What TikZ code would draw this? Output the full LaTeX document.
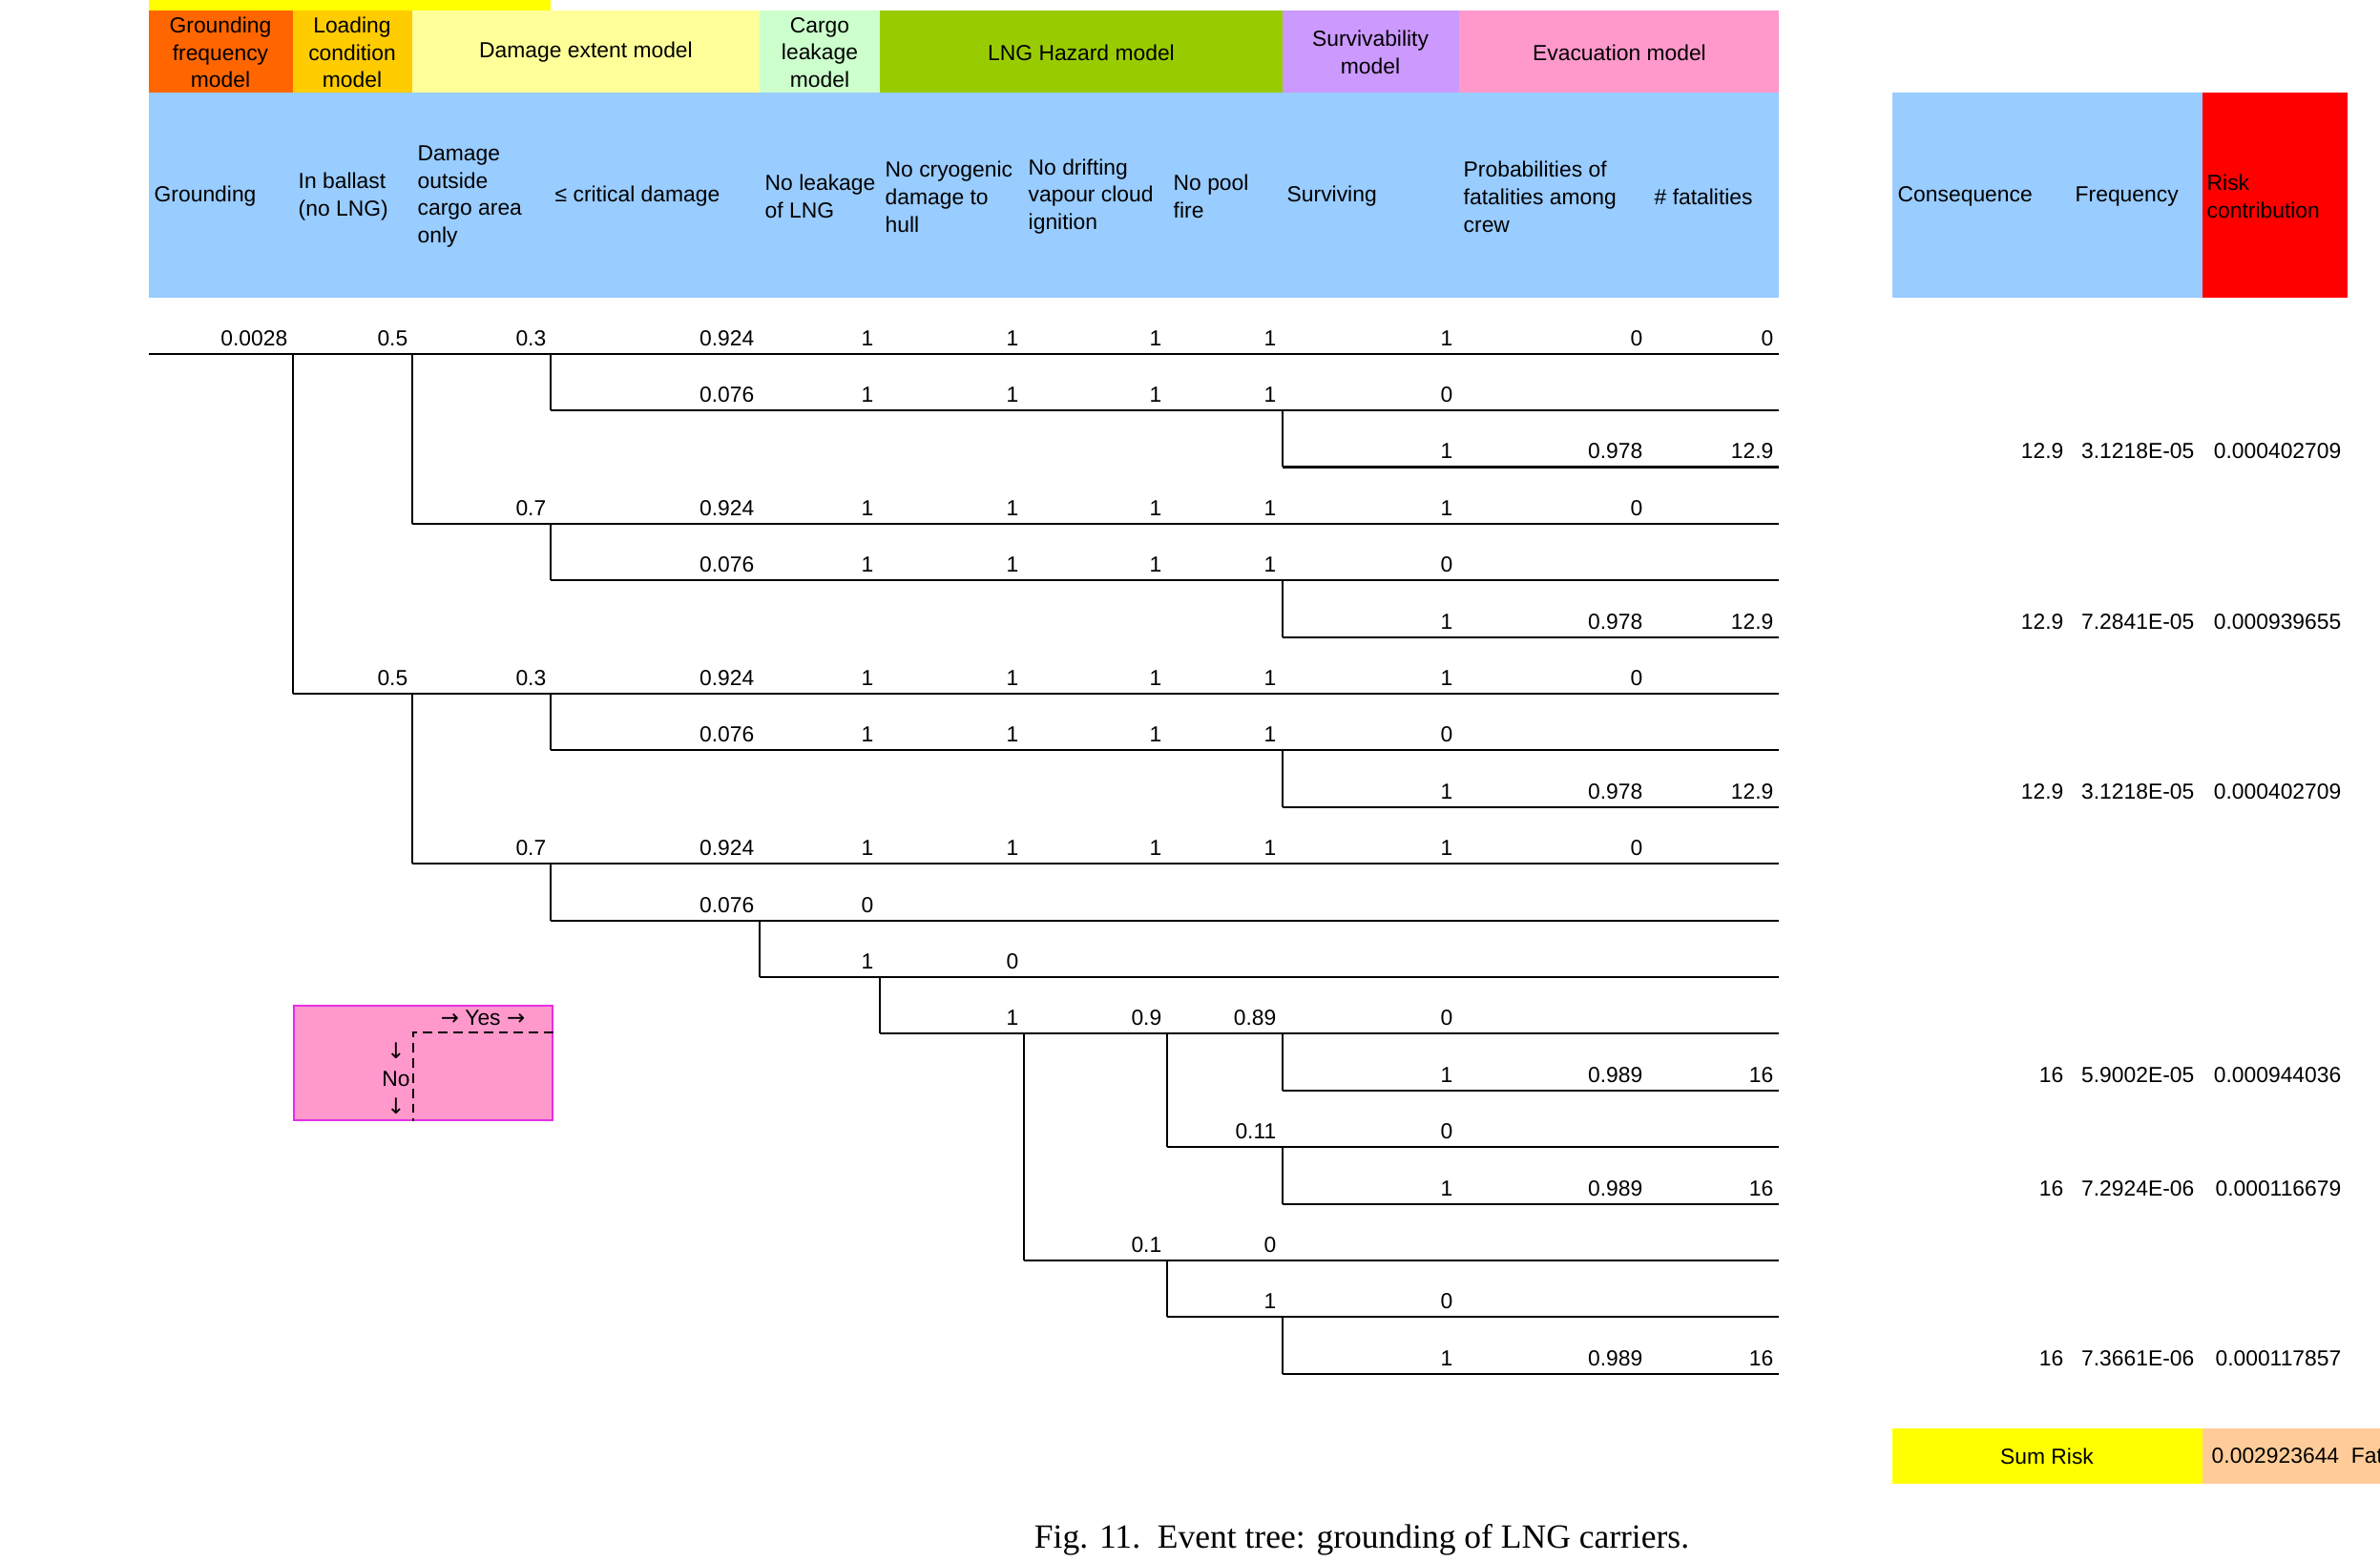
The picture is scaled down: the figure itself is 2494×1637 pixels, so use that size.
\documentclass[tikz,border=0pt]{standalone}
\usepackage{fontspec}
\setmainfont{Liberation Sans}
\newfontfamily\capfont{Liberation Serif}
\newfontfamily\arrowfont{DejaVu Sans}
\usetikzlibrary{positioning}

\definecolor{topyellow}{HTML}{FFFF00}
\definecolor{grfreq}{HTML}{FF6600}
\definecolor{loadcond}{HTML}{FFCC00}
\definecolor{dmgext}{HTML}{FFFF99}
\definecolor{leakgreen}{HTML}{CCFFCC}
\definecolor{hazgreen}{HTML}{99CC00}
\definecolor{survlav}{HTML}{CC99FF}
\definecolor{evacpink}{HTML}{FF99CC}
\definecolor{headblue}{HTML}{99CCFF}
\definecolor{riskred}{HTML}{FF0000}
\definecolor{peach}{HTML}{FFCC99}
\definecolor{keymag}{HTML}{E62EE6}

\begin{document}
\begin{tikzpicture}[x=0.01cm, y=-0.01cm,
	every node/.style={font=\fontsize{6.5pt}{8.2pt}\selectfont, inner sep=0pt},
	model/.style={align=center},
	head/.style={anchor=west, align=left},
	val/.style={anchor=base east},
	branch/.style={line width=0.6pt},
	stem/.style={line width=0.4pt}]
	\useasboundingbox (0,0) rectangle (2494,1637);

	% model bands
	\fill[topyellow] (156,0) rectangle (577,11);
	\fill[grfreq] (156,11) rectangle (306.5,97);
	\fill[loadcond] (306.5,11) rectangle (432,97);
	\fill[dmgext] (432,11) rectangle (796,97);
	\fill[leakgreen] (796,11) rectangle (922,97);
	\fill[hazgreen] (922,11) rectangle (1344,97);
	\fill[survlav] (1344,11) rectangle (1529,97);
	\fill[evacpink] (1529,11) rectangle (1864,97);
	\fill[headblue] (156,97) rectangle (1864,312);
	\fill[headblue] (1983,97) rectangle (2308,312);
	\fill[riskred] (2308,97) rectangle (2460,312);

	\node[model] (MG) at (231,55) {Grounding\\frequency\\model};
	\node[model] (MB) at (369,55) {Loading\\condition\\model};
	\node[model] (MO) at (614,55) {Damage extent model};
	\node[model] (ML) at (859,55) {Cargo\\leakage\\model};
	\node[model] (MH) at (1133,55) {LNG Hazard model};
	\node[model] (MS) at (1436,55) {Survivability\\model};
	\node[model] (ME) at (1697,55) {Evacuation model};

	\node[head] (HG) at (161,206) {Grounding};
	\node[head] (HB) at (312,206) {In ballast\\(no LNG)};
	\node[head] (HO) at (437,206) {Damage\\outside\\cargo area\\only};
	\node[head] (HC) at (581,206) {≤ critical damage};
	\node[head] (HL) at (801,206) {No leakage\\of LNG};
	\node[head] (HY) at (927,206) {No cryogenic\\damage to\\hull};
	\node[head] (HD) at (1077,206) {No drifting\\vapour cloud\\ignition};
	\node[head] (HP) at (1229,206) {No pool\\fire};
	\node[head] (HS) at (1348,206) {Surviving};
	\node[head] (HF) at (1533,206) {Probabilities of\\fatalities among\\crew};
	\node[head] (HN) at (1733,206) {\# fatalities};
	\node[head] (HQ) at (1988,206) {Consequence};
	\node[head] (HR) at (2174,206) {Frequency};
	\node[head] (HK) at (2312,206) {Risk\\contribution};

	% columns of the values
	\foreach \c/\x in {G/302, B/428, O/573, C/791, L/916, Y/1068, D/1218, P/1338,
		S/1523, F/1722, N/1859, Q/2163, R/2300, K/2454}
		\coordinate (col\c) at (\x,0);

	% branches
	\coordinate (s0) at (156,370.7);
	\coordinate (e0) at (1864,370.7);
	\draw[branch] (s0) -- (e0);
	\foreach \k/\x/\p in {1/577/0, 2/1344/1, 3/432/0, 4/577/3, 5/1344/4, 6/307/0,
		7/577/6, 8/1344/7, 9/432/6, 10/577/9, 11/796/10, 12/922/11, 13/1344/12,
		14/1223/12, 15/1344/14, 16/1073/12, 17/1223/16, 18/1344/17} {
		\coordinate (s\k) at (\x,{370.7+59.39*\k});
		\coordinate (e\k) at (1864,{370.7+59.39*\k});
		\draw[stem] (s\k |- e\p) -- (s\k);
		\draw[branch] (s\k) -- (e\k);
	}

	% probabilities and results
	\foreach \k/\vals in {
		0/{G/0.0028,B/0.5,O/0.3,C/0.924,L/1,Y/1,D/1,P/1,S/1,F/0,N/0},
		1/{C/0.076,L/1,Y/1,D/1,P/1,S/0},
		2/{S/1,F/0.978,N/12.9,Q/12.9,R/3.1218E-05,K/0.000402709},
		3/{O/0.7,C/0.924,L/1,Y/1,D/1,P/1,S/1,F/0},
		4/{C/0.076,L/1,Y/1,D/1,P/1,S/0},
		5/{S/1,F/0.978,N/12.9,Q/12.9,R/7.2841E-05,K/0.000939655},
		6/{B/0.5,O/0.3,C/0.924,L/1,Y/1,D/1,P/1,S/1,F/0},
		7/{C/0.076,L/1,Y/1,D/1,P/1,S/0},
		8/{S/1,F/0.978,N/12.9,Q/12.9,R/3.1218E-05,K/0.000402709},
		9/{O/0.7,C/0.924,L/1,Y/1,D/1,P/1,S/1,F/0},
		10/{C/0.076,L/0},
		11/{L/1,Y/0},
		12/{Y/1,D/0.9,P/0.89,S/0},
		13/{S/1,F/0.989,N/16,Q/16,R/5.9002E-05,K/0.000944036},
		14/{P/0.11,S/0},
		15/{S/1,F/0.989,N/16,Q/16,R/7.2924E-06,K/0.000116679},
		16/{D/0.1,P/0},
		17/{P/1,S/0},
		18/{S/1,F/0.989,N/16,Q/16,R/7.3661E-06,K/0.000117857}} {
		\coordinate (t\k) at (0,{362.2+59.39*\k});
		\foreach \c/\v in \vals
			\node[val] (v\k\c) at (col\c |- t\k) {\v};
	}

	% key
	\node[draw=keymag, fill=evacpink, line width=0.5pt, minimum width=2.71cm,
		minimum height=1.2cm, anchor=north west] (key) at (307,1053) {};
	\coordinate (kc) at (433,1082);
	\draw[line width=0.45pt, dash pattern=on 2.8pt off 1.7pt]
		(kc -| key.east) -- (kc) -- (kc |- key.south);
	\node (yes) at (506,1067) {{\arrowfont →} Yes {\arrowfont →}};
	\node[align=center] (no) at (415,1130) {{\arrowfont ↓}\\No\\{\arrowfont ↓}};

	% total
	\fill[topyellow] (1983,1497) rectangle (2308,1555);
	\fill[peach] (2308,1497) rectangle (2494,1555);
	\node (SR) at (2145,1526) {Sum Risk};
	\node[anchor=west] (SV) at (2317,1526) {0.002923644~~Fat};

	\node[font=\capfont\fontsize{10.1pt}{12pt}\selectfont] (cap) at (1427,1614)
		{Fig. 11.\ \ Event tree: grounding of LNG carriers.};
\end{tikzpicture}
\end{document}
